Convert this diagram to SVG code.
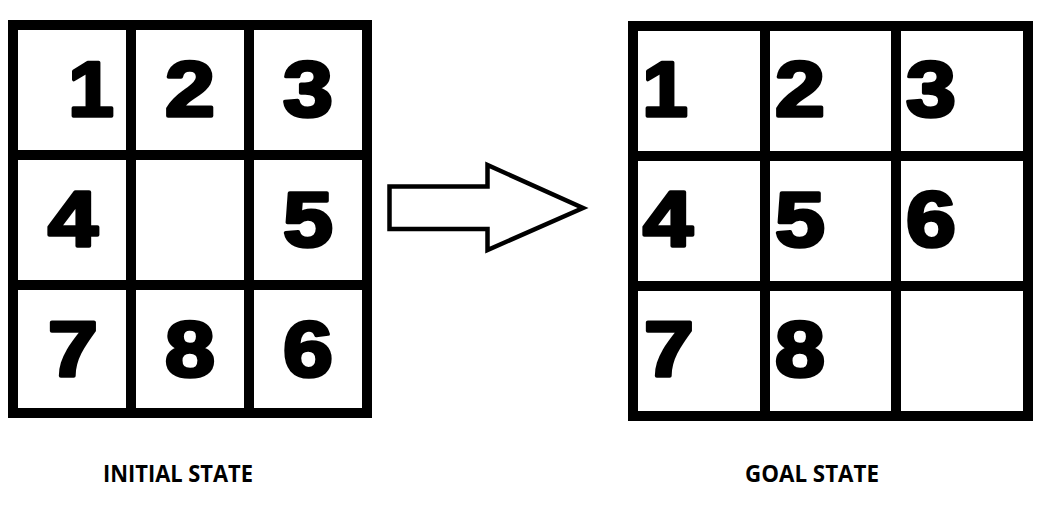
<svg xmlns="http://www.w3.org/2000/svg" width="1054" height="513" viewBox="0 0 1054 513">
<style>
.grid{fill:#fff;stroke:#000;stroke-width:10}
.div{stroke:#000;stroke-width:10}
.d{font-family:"Liberation Sans",Arial,sans-serif;font-weight:bold;font-size:78px;fill:#000;stroke:#000;stroke-width:3.5;stroke-linejoin:round;text-anchor:middle}
.lbl{font-family:"Open Sans","Liberation Sans",sans-serif;font-weight:bold;font-size:23px;fill:#000}
.arrow{fill:#fff;stroke:#000;stroke-width:4.5;stroke-linejoin:miter}
</style>
<rect width="1054" height="513" fill="#fff"/>
<g id="initial-state">
<rect class="grid" x="13" y="25" width="354" height="388"/>
<line class="div" x1="131" y1="25" x2="131" y2="413"/>
<line class="div" x1="249" y1="25" x2="249" y2="413"/>
<line class="div" x1="13" y1="155" x2="367" y2="155"/>
<line class="div" x1="13" y1="285" x2="367" y2="285"/>
<text class="d" transform="translate(91,116) scale(1.05,1)">1</text>
<text class="d" transform="translate(190,116) scale(1.15,1)">2</text>
<text class="d" transform="translate(308,116) scale(1.15,1)">3</text>
<text class="d" transform="translate(73,246) scale(1.15,1)">4</text>
<text class="d" transform="translate(308,246) scale(1.15,1)">5</text>
<text class="d" transform="translate(73,376) scale(1.15,1)">7</text>
<text class="d" transform="translate(190,376) scale(1.15,1)">8</text>
<text class="d" transform="translate(308,376) scale(1.15,1)">6</text>
</g>
<g id="goal-state">
<rect class="grid" x="633" y="26" width="395" height="390"/>
<line class="div" x1="765" y1="26" x2="765" y2="416"/>
<line class="div" x1="896" y1="26" x2="896" y2="416"/>
<line class="div" x1="633" y1="156" x2="1028" y2="156"/>
<line class="div" x1="633" y1="286" x2="1028" y2="286"/>
<text class="d" transform="translate(665,116) scale(1.05,1)">1</text>
<text class="d" transform="translate(800,116) scale(1.15,1)">2</text>
<text class="d" transform="translate(931,116) scale(1.15,1)">3</text>
<text class="d" transform="translate(668,246) scale(1.15,1)">4</text>
<text class="d" transform="translate(800,246) scale(1.15,1)">5</text>
<text class="d" transform="translate(931,246) scale(1.15,1)">6</text>
<text class="d" transform="translate(669,376) scale(1.15,1)">7</text>
<text class="d" transform="translate(800,376) scale(1.15,1)">8</text>
</g>
<g id="label-initial">
<text class="lbl" x="103" y="482" textLength="150" lengthAdjust="spacingAndGlyphs">INITIAL STATE</text>
</g>
<g id="label-goal">
<text class="lbl" x="745" y="482" textLength="134" lengthAdjust="spacingAndGlyphs">GOAL STATE</text>
</g>
<g id="connectors">
<polygon class="arrow" points="389.5,186.5 487.5,186.5 487.5,165 583,208 487.5,250 487.5,229 389.5,229"/>
</g>
</svg>
